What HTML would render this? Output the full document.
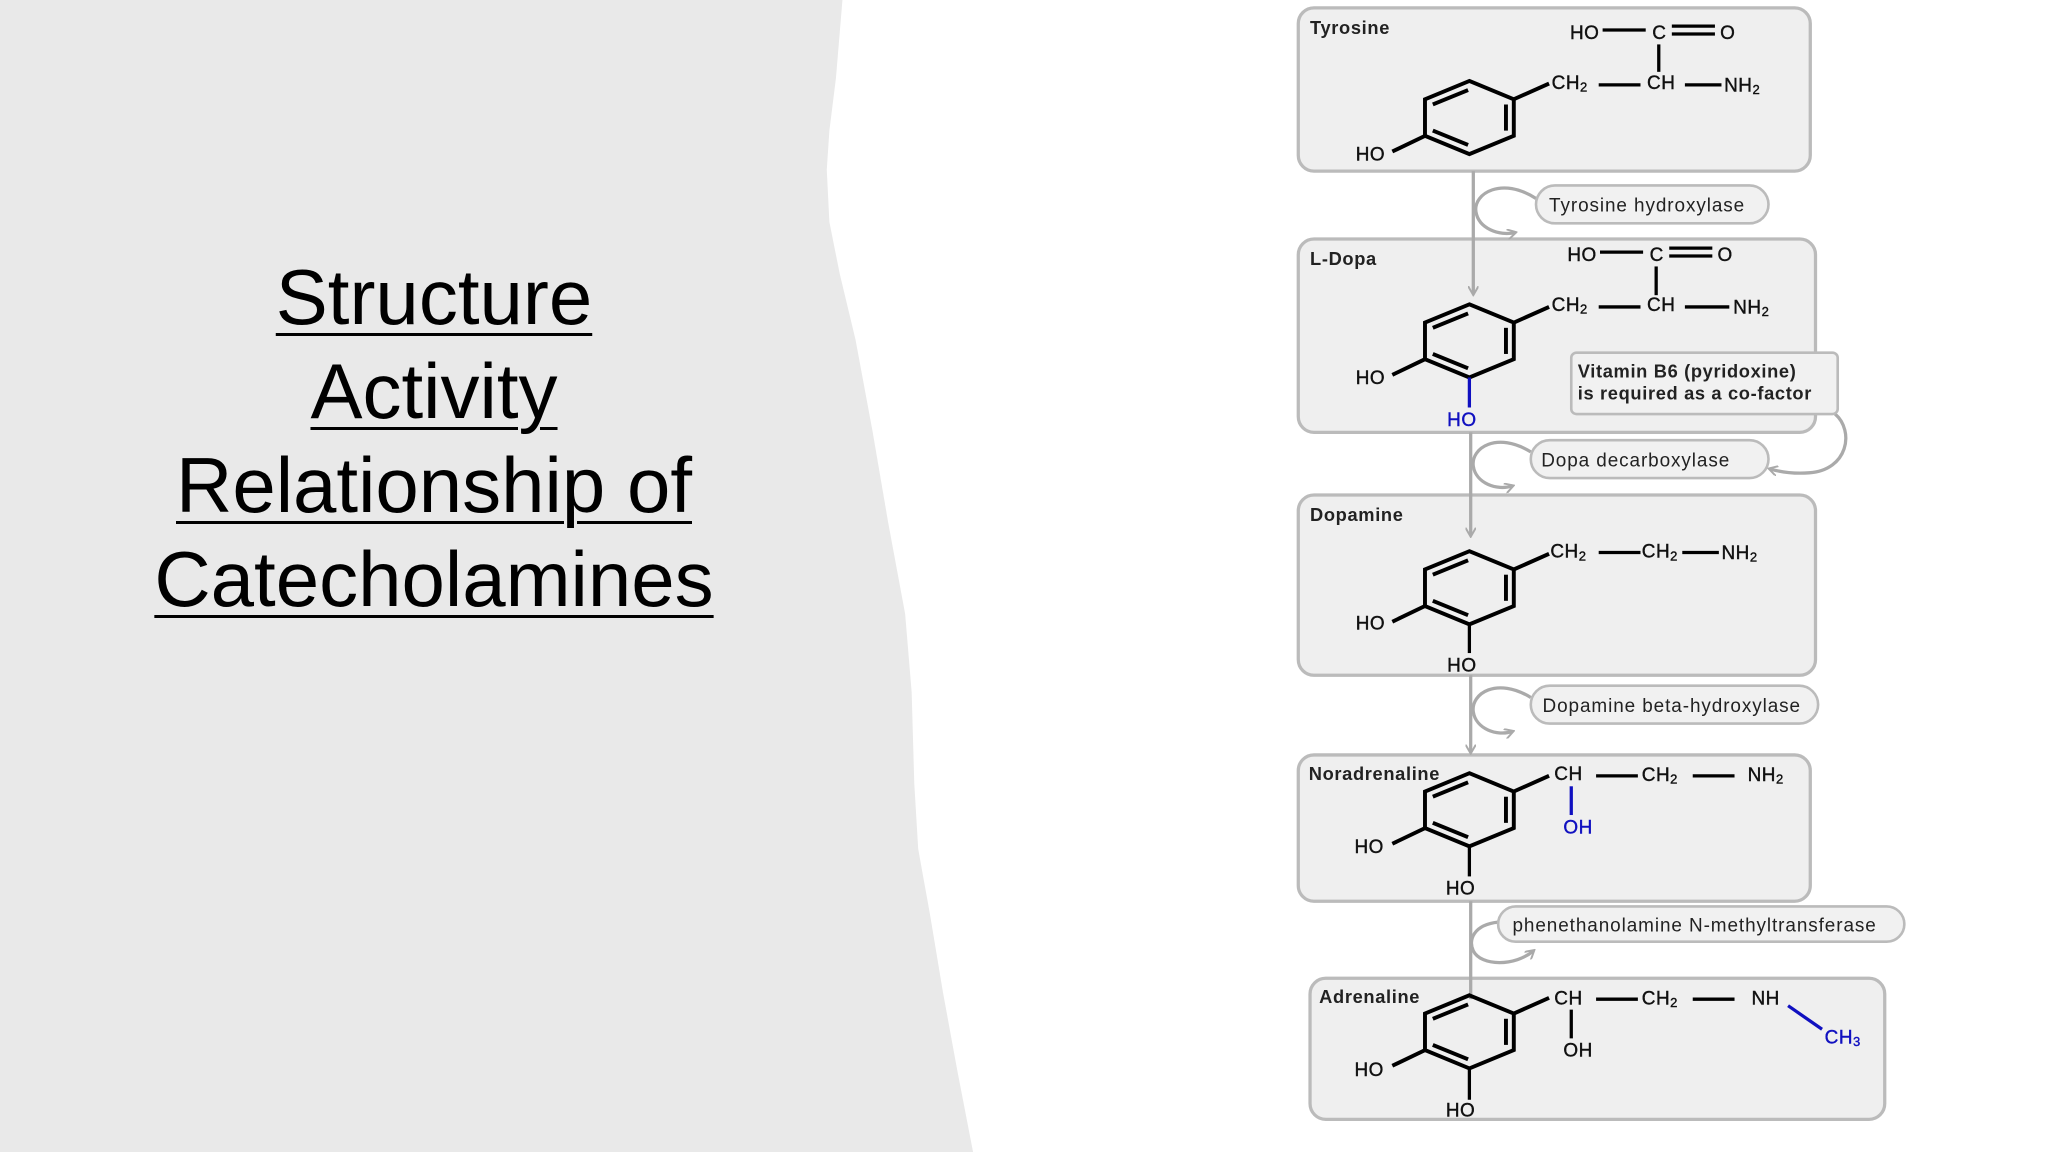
<!DOCTYPE html>
<html><head><meta charset="utf-8"><style>
html,body{margin:0;padding:0;background:#fff}
#w{position:relative;width:2048px;height:1152px;overflow:hidden;background:#fff}
svg{position:absolute;left:0;top:0}
#t{position:absolute;left:84px;width:700px;top:250px;text-align:center;font-family:"Liberation Sans",sans-serif;font-size:78px;line-height:94px;color:#000;text-decoration:underline;text-decoration-thickness:3px;text-underline-offset:9px}
</style></head><body><div id="w">
<svg width="2048" height="1152" viewBox="0 0 1568 882" xmlns="http://www.w3.org/2000/svg" font-family="Liberation Sans, sans-serif">
<defs>
<g id="ring" fill="none" stroke="#000" stroke-width="3">
<polygon points="0,-28 34,-14 34,14 0,28 -34,14 -34,-14"/>
<line x1="-28" y1="-10" x2="-1" y2="-21"/>
<line x1="28" y1="-10" x2="28" y2="10"/>
<line x1="-28" y1="10" x2="-1" y2="21"/>
<line x1="34" y1="-14" x2="61" y2="-26"/>
<line x1="-34" y1="14" x2="-59" y2="26"/>
</g>
<marker id="ah" markerWidth="8" markerHeight="8" refX="6" refY="4" orient="auto" markerUnits="userSpaceOnUse"><path d="M0,0 L7,4 L0,8" fill="none" stroke="#aaa" stroke-width="1.5"/></marker>
</defs>
<polygon points="0,0 645,0 640,60 635,100 633,130 635,170 643,210 655,260 668,330 680,400 693,470 698,530 700,600 703,650 712,700 722,760 733,820 745,882 0,882" fill="#e9e9e9"/>
<g fill="#efefef" stroke="#bbb" stroke-width="2.5">
<rect x="994" y="6" width="392" height="125" rx="12"/>
<rect x="994" y="183" width="396" height="148" rx="12"/>
<rect x="994" y="379" width="396" height="138" rx="12"/>
<rect x="994" y="578" width="392" height="112" rx="12"/>
<rect x="1003" y="749" width="440" height="108" rx="12"/>
</g>
<g stroke="#aaa" stroke-width="2.5" fill="none">
<line x1="1128" y1="131" x2="1128" y2="225" marker-end="url(#ah)"/>
<line x1="1126" y1="331" x2="1126" y2="410" marker-end="url(#ah)"/>
<line x1="1126" y1="517" x2="1126" y2="576" marker-end="url(#ah)"/>
<line x1="1126" y1="690" x2="1126" y2="765"/>
<path d="M1176,152 C1150,135 1128,148 1130,162 C1132,175 1148,181 1160,178" marker-end="url(#ah)"/>
<path d="M1172,346 C1146,330 1126,343 1128,357 C1130,370 1146,376 1158,372" marker-end="url(#ah)"/>
<path d="M1172,534 C1146,518 1126,531 1128,545 C1130,558 1146,564 1158,560" marker-end="url(#ah)"/>
<path d="M1147,706 C1128,708 1124,720 1128,728 C1134,740 1160,740 1174,728" marker-end="url(#ah)"/>
<path d="M1405,317 C1420,330 1415,360 1385,362 C1372,363 1362,361 1355,359" marker-end="url(#ah)"/>
</g>
<g fill="#f1f1f1" stroke="#bbb" stroke-width="2">
<rect x="1176" y="142" width="178" height="29" rx="14.5"/>
<rect x="1172" y="337" width="182" height="29" rx="14.5"/>
<rect x="1172" y="525" width="220" height="29" rx="14.5"/>
<rect x="1147" y="694" width="311" height="27" rx="13.5"/>
<rect x="1203" y="270" width="204" height="47" rx="4"/>
</g>
<g font-size="14.5" fill="#222" letter-spacing="0.7">
<text x="1186" y="162">Tyrosine hydroxylase</text>
<text x="1180" y="357">Dopa decarboxylase</text>
<text x="1181" y="545">Dopamine beta-hydroxylase</text>
<text x="1158" y="713">phenethanolamine N-methyltransferase</text>
</g>
<g font-size="14" font-weight="bold" fill="#222" letter-spacing="0.5">
<text x="1003" y="26">Tyrosine</text>
<text x="1003" y="203">L-Dopa</text>
<text x="1003" y="399">Dopamine</text>
<text x="1002" y="597">Noradrenaline</text>
<text x="1010" y="768">Adrenaline</text>
<text x="1208" y="289">Vitamin B6 (pyridoxine)</text>
<text x="1208" y="306">is required as a co-factor</text>
</g>
<use href="#ring" x="1125" y="90"/>
<use href="#ring" x="1125" y="261"/>
<use href="#ring" x="1125" y="450"/>
<use href="#ring" x="1125" y="620"/>
<use href="#ring" x="1125" y="790"/>
<g stroke="#000" stroke-width="2.5">
<line x1="1125" y1="478" x2="1125" y2="500"/>
<line x1="1125" y1="648" x2="1125" y2="671"/>
<line x1="1125" y1="818" x2="1125" y2="842"/>
<line x1="1227" y1="23" x2="1260" y2="23"/>
<line x1="1280" y1="20" x2="1313" y2="20"/><line x1="1280" y1="26" x2="1313" y2="26"/>
<line x1="1270" y1="34" x2="1270" y2="55"/>
<line x1="1224" y1="65" x2="1256" y2="65"/><line x1="1290" y1="65" x2="1318" y2="65"/>
<line x1="1225" y1="193" x2="1258" y2="193"/>
<line x1="1278" y1="190" x2="1311" y2="190"/><line x1="1278" y1="196" x2="1311" y2="196"/>
<line x1="1268" y1="204" x2="1268" y2="226"/>
<line x1="1224" y1="235" x2="1256" y2="235"/><line x1="1290" y1="235" x2="1324" y2="235"/>
<line x1="1224" y1="423" x2="1256" y2="423"/><line x1="1288" y1="423" x2="1316" y2="423"/>
<line x1="1222" y1="594" x2="1254" y2="594"/><line x1="1296" y1="594" x2="1328" y2="594"/>
<line x1="1222" y1="765" x2="1254" y2="765"/><line x1="1296" y1="765" x2="1328" y2="765"/>
<line x1="1203" y1="773" x2="1203" y2="795"/>
</g>
<g stroke="#1010c0" stroke-width="2.5">
<line x1="1125" y1="289" x2="1125" y2="312"/>
<line x1="1203" y1="602" x2="1203" y2="624"/>
<line x1="1369" y1="770" x2="1395" y2="788"/>
</g>
<g font-size="14.5" fill="#111" stroke="#111" stroke-width="0.3" letter-spacing="0.4">
<text x="1038" y="123">HO</text>
<text x="1202" y="30">HO</text><text x="1265" y="30">C</text><text x="1317" y="30">O</text>
<text x="1188" y="68">CH<tspan font-size="10" dy="2">2</tspan></text><text x="1261" y="68">CH</text><text x="1320" y="70">NH<tspan font-size="10" dy="2">2</tspan></text>
<text x="1038" y="294">HO</text>
<text x="1200" y="200">HO</text><text x="1263" y="200">C</text><text x="1315" y="200">O</text>
<text x="1188" y="238">CH<tspan font-size="10" dy="2">2</tspan></text><text x="1261" y="238">CH</text><text x="1327" y="240">NH<tspan font-size="10" dy="2">2</tspan></text>
<text x="1038" y="482">HO</text><text x="1108" y="514">HO</text>
<text x="1187" y="427">CH<tspan font-size="10" dy="2">2</tspan></text><text x="1257" y="427">CH<tspan font-size="10" dy="2">2</tspan></text><text x="1318" y="428">NH<tspan font-size="10" dy="2">2</tspan></text>
<text x="1037" y="653">HO</text><text x="1107" y="685">HO</text>
<text x="1190" y="597">CH</text><text x="1257" y="598">CH<tspan font-size="10" dy="2">2</tspan></text><text x="1338" y="598">NH<tspan font-size="10" dy="2">2</tspan></text>
<text x="1037" y="824">HO</text><text x="1107" y="855">HO</text>
<text x="1190" y="769">CH</text><text x="1257" y="769">CH<tspan font-size="10" dy="2">2</tspan></text><text x="1341" y="769">NH</text>
<text x="1197" y="809">OH</text>
</g>
<g font-size="14.5" fill="#1010c0" stroke="#1010c0" stroke-width="0.3" letter-spacing="0.4">
<text x="1108" y="326">HO</text>
<text x="1197" y="638">OH</text>
<text x="1397" y="799">CH<tspan font-size="10" dy="2">3</tspan></text>
</g>
</svg>
<div id="t">Structure<br>Activity<br>Relationship of<br>Catecholamines</div>
</div></body></html>
